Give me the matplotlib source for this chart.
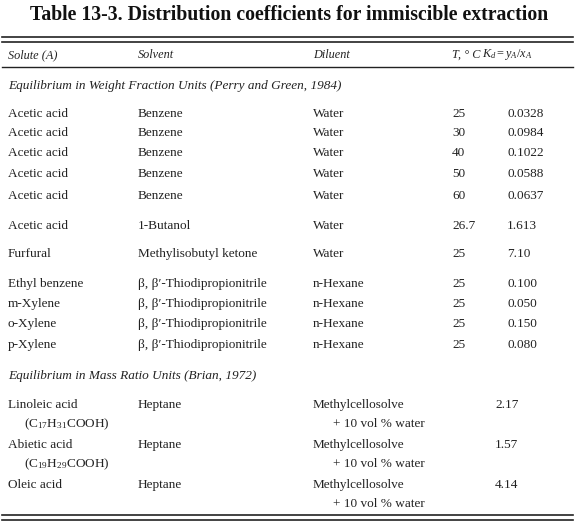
import matplotlib
matplotlib.use("Agg")
import matplotlib.pyplot as plt

title = "Table 13-3. Distribution coefficients for immiscible extraction"
headers = ["Solute (A)", "Solvent", "Diluent", "T, \u00b0 C", "$K_d = y_A/x_A$"]
sec1 = "Equilibrium in Weight Fraction Units (Perry and Green, 1984)"
solutes1 = ["Acetic acid"] * 5 + ["Acetic acid", "Furfural", "Ethyl benzene", "m-Xylene", "o-Xylene", "p-Xylene"]
solvents1 = ["Benzene"] * 5 + ["1-Butanol", "Methylisobutyl ketone"] + ["\u03b2, \u03b2\u2032-Thiodipropionitrile"] * 4
diluents1 = ["Water"] * 7 + ["n-Hexane"] * 4
temps1 = ["25", "30", "40", "50", "60", "26.7", "25", "25", "25", "25", "25"]
kd1 = ["0.0328", "0.0984", "0.1022", "0.0588", "0.0637", "1.613", "7.10", "0.100", "0.050", "0.150", "0.080"]
y1 = [114, 133, 153, 174, 196, 226, 254, 284, 304, 324, 345]
sec2 = "Equilibrium in Mass Ratio Units (Brian, 1972)"
solutes2 = ["Linoleic acid", "Abietic acid", "Oleic acid"]
formulas2 = ["(C$_{17}$H$_{31}$COOH)", "(C$_{19}$H$_{29}$COOH)", ""]
solvents2 = ["Heptane"] * 3
diluents2 = ["Methylcellosolve"] * 3
diluent2b = "+ 10 vol % water"
kd2 = ["2.17", "1.57", "4.14"]
y2 = [405, 445, 485]

plt.rcParams["font.family"] = ["Liberation Serif", "DejaVu Serif"]
plt.rcParams["mathtext.fontset"] = "custom"
plt.rcParams["mathtext.rm"] = "Liberation Serif"
plt.rcParams["mathtext.it"] = "Liberation Serif:italic"

fig = plt.figure(figsize=(5.75, 5.25), dpi=100)
ax = fig.add_axes([0, 0, 1, 1])
ax.set_xlim(0, 575)
ax.set_ylim(525, 0)
ax.axis("off")

fs = 9.5
ax.text(289, 15, title, ha="center", va="center", fontsize=14.2, fontweight="bold", color="#111")
for yy, lw in [(37, 1.2), (41.5, 1.2), (67, 1.0), (515, 1.2), (519.5, 1.2)]:
    ax.plot([2, 573], [yy, yy], color="#222", lw=lw)

hx = [8, 138, 313, 452, 482]
for x, h in zip(hx, headers):
    ax.text(x, 55, h, ha="left", va="center", fontsize=8.8, style="italic", color="#222")

ax.text(8, 86, sec1, ha="left", va="center", fontsize=fs, style="italic", color="#222")
for s, sv, d, t, k, y in zip(solutes1, solvents1, diluents1, temps1, kd1, y1):
    ax.text(8, y, s, ha="left", va="center", fontsize=fs, color="#222")
    ax.text(138, y, sv, ha="left", va="center", fontsize=fs, color="#222")
    ax.text(313, y, d, ha="left", va="center", fontsize=fs, color="#222")
    ax.text(452, y, t, ha="left", va="center", fontsize=fs, color="#222")
    ax.text(507, y, k, ha="left", va="center", fontsize=fs, color="#222")

ax.text(8, 376, sec2, ha="left", va="center", fontsize=fs, style="italic", color="#222")
for s, f, sv, d, k, y in zip(solutes2, formulas2, solvents2, diluents2, kd2, y2):
    ax.text(8, y, s, ha="left", va="center", fontsize=fs, color="#222")
    if f:
        ax.text(24, y + 19, f, ha="left", va="center", fontsize=fs, color="#222")
    ax.text(138, y, sv, ha="left", va="center", fontsize=fs, color="#222")
    ax.text(313, y, d, ha="left", va="center", fontsize=fs, color="#222")
    ax.text(333, y + 19, diluent2b, ha="left", va="center", fontsize=fs, color="#222")
    ax.text(495, y, k, ha="left", va="center", fontsize=fs, color="#222")

fig.savefig("out.png", dpi=100, facecolor="white")
